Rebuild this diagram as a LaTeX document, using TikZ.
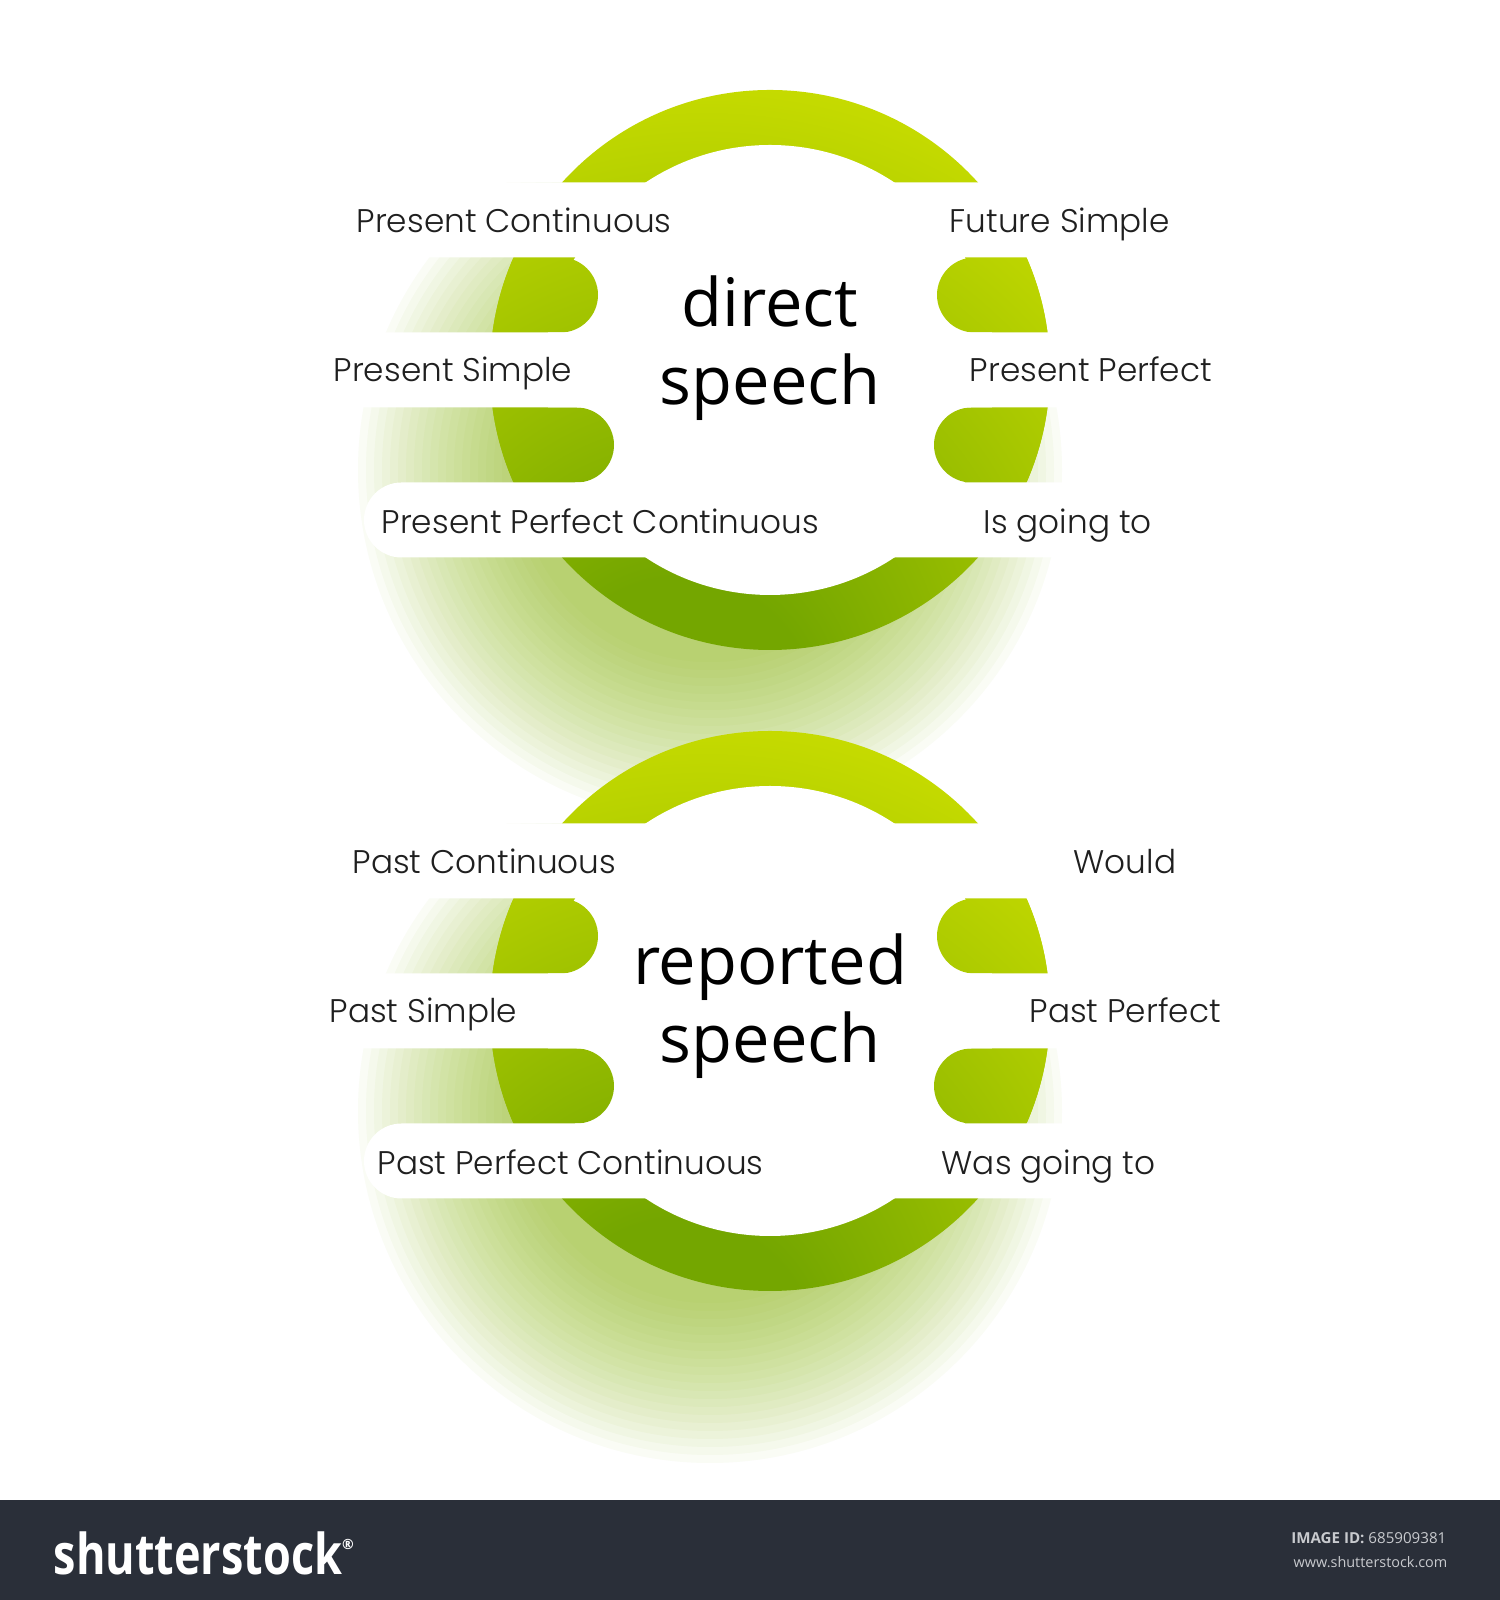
\documentclass[tikz,border=0pt]{standalone}
\usepackage{fontspec}
\setmainfont{Open Sans}
\IfFontExistsTF{Poppins Light}{\newfontfamily\tensefont{Poppins Light}}{\newfontfamily\tensefont{Lato}}
\usetikzlibrary{positioning}
\definecolor{ringlight}{HTML}{C9DD00}
\definecolor{ringdark}{HTML}{74A600}
\definecolor{shadowgreen}{HTML}{8DBA10}
\definecolor{bannerdark}{HTML}{2A2F39}
\definecolor{idgrey}{HTML}{C8CACE}
\pgfdeclareradialshading{ringshade}{\pgfpoint{-9bp}{-34bp}}{color(0bp)=(ringdark); color(12bp)=(ringdark); color(48bp)=(ringlight); color(120bp)=(ringlight)}

\tikzset{
	tense/.style={anchor=base west, inner sep=0pt, text=black!88, font=\tensefont\fontsize{9.3}{10}\selectfont},
	speech/.style={anchor=base, inner sep=0pt, text=black, font=\fontsize{19}{22}\selectfont},
	band/.style={fill=white, rounded corners=0.375cm},
}

% one ring with its shadow, pills and white bands
\newcommand{\speechring}[1]{%
	\begin{scope}[shift={#1}]
	\begin{scope}
		\clip (-500,-600) rectangle (500,187.5);
		\foreach \r in {192,200,...,352}
			\fill[shadowgreen, opacity=0.04] (-60,-100) circle (\r);
	\end{scope}
	\shade[shading=ringshade] (0,0) circle (280);
	\fill[white] (0,0) circle (225);
	\begin{scope}
		\clip[rounded corners=0.375cm] (-320,37.5) rectangle (-172,112.5)
			(-320,-112.5) rectangle (-156,-37.5)
			(167,37.5) rectangle (320,112.5)
			(164,-112.5) rectangle (320,-37.5);
		\shade[shading=ringshade] (0,0) circle (280);
	\end{scope}
	\fill[band] (-440,112.5) rectangle (460,187.5);
	\fill[band] (-450,-37.5) rectangle (460,37.5);
	\fill[band] (-406,-187.5) rectangle (460,-112.5);
	\end{scope}}

\begin{document}
\begin{tikzpicture}[x=0.01cm, y=0.01cm]
	\fill[white] (0,0) rectangle (1500,1600);
	\useasboundingbox (0,0) rectangle (1500,1600);

	\speechring{(770,1230)}
	\speechring{(770,589)}

	% direct speech
	\node[speech] (direct) at (770,1273) {direct};
	\node[speech] (dspeech) at (770,1195) {speech};
	\node[tense] (prescont) at (356,1367) {Present Continuous};
	\node[tense] (futsimple) at (949,1367) {Future Simple};
	\node[tense] (pressimple) at (333,1218) {Present Simple};
	\node[tense] (presperf) at (969,1218) {Present Perfect};
	\node[tense] (presperfcont) at (381,1066) {Present Perfect Continuous};
	\node[tense] (isgoing) at (983,1066) {Is going to};

	% reported speech
	\node[speech] (reported) at (770,615) {reported};
	\node[speech] (rspeech) at (770,537) {speech};
	\node[tense] (pastcont) at (352,726) {Past Continuous};
	\node[tense] (would) at (1073,726) {Would};
	\node[tense] (pastsimple) at (329,577) {Past Simple};
	\node[tense] (pastperf) at (1029,577) {Past Perfect};
	\node[tense] (pastperfcont) at (377,425) {Past Perfect Continuous};
	\node[tense] (wasgoing) at (941,425) {Was going to};

	% banner
	\fill[bannerdark] (0,0) rectangle (1500,100);
	\node[anchor=west, inner sep=0pt, text=white, font=\bfseries\fontsize{12.8}{13}\selectfont] (logo) at (53,47) {\scalebox{1}[1.25]{shutterstock}{\fontsize{4}{4}\selectfont\raisebox{7pt}{®}}};
	\node[anchor=base east, inner sep=0pt, text=idgrey, font=\fontsize{4.3}{5}\selectfont] (imageid) at (1447,56) {\textbf{IMAGE ID:} 685909381};
	\node[anchor=base east, inner sep=0pt, text=idgrey, font=\fontsize{4.1}{5}\selectfont] (siteurl) at (1448,32) {www.shutterstock.com};
\end{tikzpicture}
\end{document}
